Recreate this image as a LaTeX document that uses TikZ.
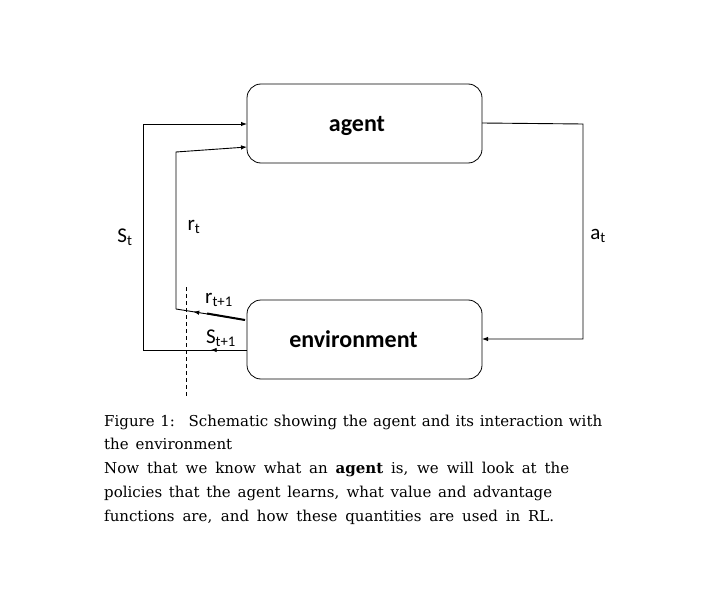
\documentclass[tikz,border=0pt]{standalone}
\usepackage{fontspec}
\setmainfont{DejaVu Serif}
\newfontfamily\calibri{Carlito}
\usetikzlibrary{arrows.meta,decorations.markings}
\begin{document}
\begin{tikzpicture}[x=1pt,y=-1pt,
  box/.style={draw, rounded corners=14pt, minimum width=235pt, minimum height=79pt,
    line width=0.8pt, inner sep=0pt},
  boxtxt/.style={anchor=base, inner sep=0pt, font=\calibri\bfseries\fontsize{24}{28}\selectfont},
  conn/.style={line width=0.9pt},
  tipend/.style={-{Latex[length=6pt,width=4.5pt]}},
  midarrow/.style={postaction={decorate}, decoration={markings,
    mark=at position #1 with {\arrow{Latex[length=6pt,width=4.5pt]}}}},
  lbl/.style={font=\calibri\fontsize{21}{24}\selectfont, inner sep=0pt},
  captxt/.style={anchor=base west, inner sep=0pt, font=\fontsize{15}{18}\selectfont}
]
\useasboundingbox (0,0) rectangle (710,599);

\node[box] (agent) at (364.5,123.5) {};
\node[box] (env) at (364.5,339.5) {};
\node[boxtxt] (agenttxt) at (357,132) {agent};
\node[boxtxt] (envtxt) at (353.5,347) {environment};

% S_t loop
\coordinate (sOut) at (247,350);
\coordinate (sA) at (143,350);
\coordinate (sB) at (143,124);
\coordinate (sIn) at (247,124);
\draw[conn, midarrow=0.11] (sOut) -- (sA) -- (sB);
\draw[conn, tipend] (sB) -- (sIn);

% r_t loop
\coordinate (rOut) at (245,320);
\coordinate (rA) at (176,309);
\coordinate (rB) at (176,152);
\coordinate (rIn) at (247,147);
\draw[line width=2pt] (rOut) -- (207,313.5);
\draw[conn, midarrow=0.75] (rOut) -- (rA);
\draw[conn, tipend] (rA) -- (rB) -- (rIn);

% a_t loop
\coordinate (aOut) at (482,123);
\coordinate (aA) at (583,124);
\coordinate (aB) at (583,339);
\coordinate (aIn) at (482,339);
\draw[conn, tipend] (aOut) -- (aA) -- (aB) -- (aIn);

% dashed cut
\coordinate (dTop) at (186,287);
\coordinate (dBot) at (186,397);
\draw[line width=0.9pt, dash pattern=on 4pt off 3pt] (dTop) -- (dBot);

% labels
\node[lbl] (lst) at (125,237) {S\textsubscript{t}};
\node[lbl] (lrt) at (194,227) {r\textsubscript{t}};
\node[lbl] (lrt1) at (219,300) {r\textsubscript{t+1}};
\node[lbl] (lst1) at (221,338) {S\textsubscript{t+1}};
\node[lbl] (lat) at (598,236) {a\textsubscript{t}};

% caption
\node[captxt] (c1) at (104,426) {\makebox[498pt][s]{Figure 1: \ Schematic showing the agent and its interaction with}};
\node[captxt] (c2) at (104,449) {\makebox[128pt][s]{the environment}};
\node[captxt] (c3) at (104,473) {\makebox[465pt][s]{Now that we know what an \textbf{agent} is, we will look at the}};
\node[captxt] (c4) at (104,497) {\makebox[448pt][s]{policies that the agent learns, what value and advantage}};
\node[captxt] (c5) at (104,521) {\makebox[450pt][s]{functions are, and how these quantities are used in RL.}};
\end{tikzpicture}
\end{document}
